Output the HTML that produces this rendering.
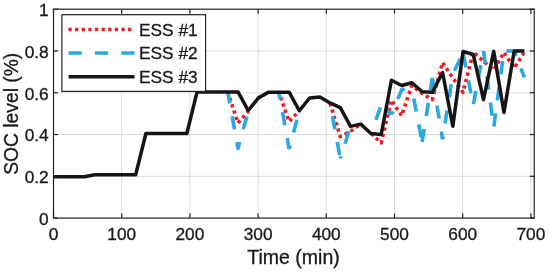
<!DOCTYPE html>
<html><head><meta charset="utf-8"><title>SOC level</title>
<style>
html,body{margin:0;padding:0;background:#fff;}
svg{display:block;font-family:"Liberation Sans",Arial,sans-serif;}
</style></head><body>
<svg width="550" height="271" viewBox="0 0 550 271">
<rect width="550" height="271" fill="#fff"/>
<g stroke="#dcdcdc" stroke-width="1" fill="none"><line x1="121.70" y1="9.2" x2="121.70" y2="218.1"/><line x1="189.90" y1="9.2" x2="189.90" y2="218.1"/><line x1="258.10" y1="9.2" x2="258.10" y2="218.1"/><line x1="326.30" y1="9.2" x2="326.30" y2="218.1"/><line x1="394.50" y1="9.2" x2="394.50" y2="218.1"/><line x1="462.70" y1="9.2" x2="462.70" y2="218.1"/><line x1="530.90" y1="9.2" x2="530.90" y2="218.1"/><line x1="53.5" y1="176.32" x2="534.2" y2="176.32"/><line x1="53.5" y1="134.54" x2="534.2" y2="134.54"/><line x1="53.5" y1="92.76" x2="534.2" y2="92.76"/><line x1="53.5" y1="50.98" x2="534.2" y2="50.98"/></g>
<g fill="none" stroke-linejoin="round" stroke-linecap="butt">
<g stroke="#ed1c24" stroke-width="3.6" stroke-dasharray="3.3 3.33"><path d="M227.75,91.92 L237.98,123.05 L248.21,111.56" stroke-dashoffset="0.28"/><path d="M278.90,92.13 L289.13,121.59 L299.36,110.73" stroke-dashoffset="1.28"/><path d="M330.05,102.89 L340.28,136.63 L350.51,131.41 L360.74,124.09" stroke-dashoffset="6.29"/><path d="M370.97,133.50 L381.20,142.90 L391.43,100.07 L401.66,115.74 L411.89,85.45 L422.12,93.39 L432.35,99.65 L442.58,62.47 L452.81,78.14 L463.04,92.34 L473.27,52.02 L483.50,61.22 L493.73,70.20 L503.96,52.44 L514.19,68.11 L524.42,52.02" stroke-dashoffset="6.56"/></g>
<g stroke="#29a9e0" stroke-width="3.6" stroke-dasharray="13.3 13.1"><path d="M227.75,91.92 L237.98,148.54 L248.21,111.56" stroke-dashoffset="1.70"/><path d="M278.90,92.13 L289.13,148.95" stroke-dashoffset="6.10"/><path d="M289.13,148.95 L299.36,110.73" stroke-dashoffset="9.40"/><path d="M330.05,102.89 L340.28,158.56" stroke-dashoffset="12.90"/><path d="M340.28,158.56 L350.51,126.39" stroke-dashoffset="10.90"/><path d="M370.97,133.50 L381.20,105.29" stroke-dashoffset="11.80"/><path d="M381.20,105.29 L391.43,114.49" stroke-dashoffset="20.00"/><path d="M391.43,114.49 L401.66,89.63 L411.89,88.58" stroke-dashoffset="9.60"/><path d="M411.89,88.58 L422.12,142.06" stroke-dashoffset="16.30"/><path d="M422.12,142.06 L432.35,77.72" stroke-dashoffset="0.00"/><path d="M432.35,77.72 L442.58,139.34" stroke-dashoffset="24.70"/><path d="M442.58,139.34 L452.81,73.96" stroke-dashoffset="10.40"/><path d="M452.81,73.96 L463.04,53.07" stroke-dashoffset="22.80"/><path d="M463.04,53.07 L473.27,105.09" stroke-dashoffset="25.00"/><path d="M473.27,105.09 L483.50,50.98" stroke-dashoffset="25.40"/><path d="M483.50,50.98 L493.73,127.44" stroke-dashoffset="0.80"/><path d="M493.73,127.44 L503.96,50.98" stroke-dashoffset="25.50"/><path d="M503.96,50.98 L514.19,50.98 L524.42,77.30" stroke-dashoffset="24.00"/></g>
<path d="M53.84,176.74 L64.07,176.74 L74.30,176.74 L84.53,176.74 L94.76,174.75 L104.99,174.75 L115.22,174.75 L125.45,174.75 L135.68,174.75 L145.91,133.50 L156.14,133.50 L166.37,133.50 L176.60,133.50 L186.83,133.50 L197.06,91.92 L207.29,91.92 L217.52,91.92 L227.75,91.92 L237.98,91.92 L248.21,110.52 L258.44,97.88 L268.67,92.13 L278.90,92.13 L289.13,92.13 L299.36,110.73 L309.59,97.98 L319.82,96.94 L330.05,102.89 L340.28,107.59 L350.51,126.39 L360.74,124.09 L370.97,133.50 L381.20,134.54 L391.43,80.23 L401.66,85.45 L411.89,82.73 L422.12,91.72 L432.35,92.34 L442.58,72.50 L452.81,126.18 L463.04,51.50 L473.27,54.53 L483.50,99.65 L493.73,51.40 L503.96,112.40 L514.19,50.98 L524.42,50.98" stroke="#161415" stroke-width="3.5"/>
</g>
<g stroke="#222" stroke-width="1.2" fill="none"><line x1="53.50" y1="218.1" x2="53.50" y2="213.6"/><line x1="53.50" y1="9.2" x2="53.50" y2="13.7"/><line x1="121.70" y1="218.1" x2="121.70" y2="213.6"/><line x1="121.70" y1="9.2" x2="121.70" y2="13.7"/><line x1="189.90" y1="218.1" x2="189.90" y2="213.6"/><line x1="189.90" y1="9.2" x2="189.90" y2="13.7"/><line x1="258.10" y1="218.1" x2="258.10" y2="213.6"/><line x1="258.10" y1="9.2" x2="258.10" y2="13.7"/><line x1="326.30" y1="218.1" x2="326.30" y2="213.6"/><line x1="326.30" y1="9.2" x2="326.30" y2="13.7"/><line x1="394.50" y1="218.1" x2="394.50" y2="213.6"/><line x1="394.50" y1="9.2" x2="394.50" y2="13.7"/><line x1="462.70" y1="218.1" x2="462.70" y2="213.6"/><line x1="462.70" y1="9.2" x2="462.70" y2="13.7"/><line x1="530.90" y1="218.1" x2="530.90" y2="213.6"/><line x1="530.90" y1="9.2" x2="530.90" y2="13.7"/><line x1="53.5" y1="218.10" x2="58.0" y2="218.10"/><line x1="534.2" y1="218.10" x2="529.7" y2="218.10"/><line x1="53.5" y1="176.32" x2="58.0" y2="176.32"/><line x1="534.2" y1="176.32" x2="529.7" y2="176.32"/><line x1="53.5" y1="134.54" x2="58.0" y2="134.54"/><line x1="534.2" y1="134.54" x2="529.7" y2="134.54"/><line x1="53.5" y1="92.76" x2="58.0" y2="92.76"/><line x1="534.2" y1="92.76" x2="529.7" y2="92.76"/><line x1="53.5" y1="50.98" x2="58.0" y2="50.98"/><line x1="534.2" y1="50.98" x2="529.7" y2="50.98"/><line x1="53.5" y1="9.20" x2="58.0" y2="9.20"/><line x1="534.2" y1="9.20" x2="529.7" y2="9.20"/>
<rect x="53.5" y="9.2" width="480.70000000000005" height="208.9"/></g>
<g font-size="17.3px" fill="#1a1718" stroke="#1a1718" stroke-width="0.3"><text x="53.50" y="240.3" text-anchor="middle">0</text><text x="121.70" y="240.3" text-anchor="middle">100</text><text x="189.90" y="240.3" text-anchor="middle">200</text><text x="258.10" y="240.3" text-anchor="middle">300</text><text x="326.30" y="240.3" text-anchor="middle">400</text><text x="394.50" y="240.3" text-anchor="middle">500</text><text x="462.70" y="240.3" text-anchor="middle">600</text><text x="530.90" y="240.3" text-anchor="middle">700</text><text x="48.7" y="224.90" text-anchor="end">0</text><text x="48.7" y="183.12" text-anchor="end">0.2</text><text x="48.7" y="141.34" text-anchor="end">0.4</text><text x="48.7" y="99.56" text-anchor="end">0.6</text><text x="48.7" y="57.78" text-anchor="end">0.8</text><text x="48.7" y="16.00" text-anchor="end">1</text></g>
<text x="293.5" y="264" font-size="19.5px" text-anchor="middle" fill="#1a1718" stroke="#1a1718" stroke-width="0.3">Time (min)</text>
<text transform="translate(18.3,113.8) rotate(-90)" font-size="19.3px" text-anchor="middle" fill="#1a1718" stroke="#1a1718" stroke-width="0.3">SOC level (%)</text>
<g>
<rect x="61.9" y="14.7" width="143.7" height="76.7" fill="#fff" stroke="#222" stroke-width="1.2"/>
<g fill="none" stroke-width="3.6">
<line x1="68.4" y1="29.5" x2="133.4" y2="29.5" stroke="#ed1c24" stroke-dasharray="3.3 3.33"/>
<line x1="68.5" y1="53" x2="134.6" y2="53" stroke="#29a9e0" stroke-dasharray="13.3 13.1"/>
<line x1="68.6" y1="76.8" x2="134.5" y2="76.8" stroke="#161415" stroke-width="3.5"/>
</g>
<g font-size="17.3px" fill="#1a1718" stroke="#1a1718" stroke-width="0.3">
<text x="139" y="35.5">ESS #1</text>
<text x="139" y="59">ESS #2</text>
<text x="139" y="82.5">ESS #3</text>
</g></g>
</svg>
</body></html>
